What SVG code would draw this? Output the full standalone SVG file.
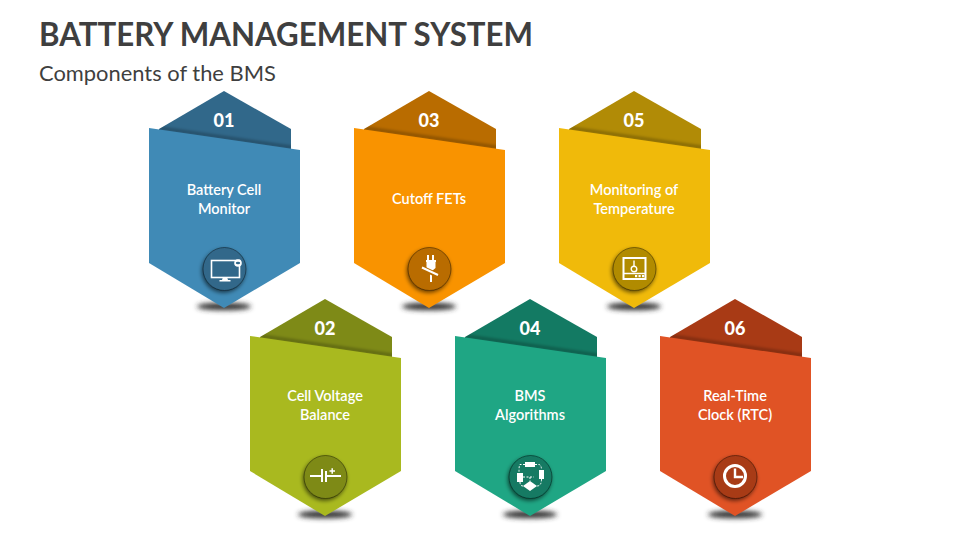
<svg xmlns="http://www.w3.org/2000/svg" width="960" height="540" viewBox="0 0 960 540">
<style>
text{font-family:Lato,"Liberation Sans",sans-serif;text-anchor:middle}
.title{font-size:32.500px;font-weight:700;fill:#3f3f3f;text-anchor:start}
.sub{font-size:21.900px;fill:#3f3f3f;text-anchor:start}
.num{font-size:18px;font-weight:900;fill:#fff}
.lbl{font-size:14.500px;font-weight:600;fill:#fff}
.ic{fill:none;stroke:#fff;stroke-width:2}
.icf{fill:#fff}
.ring{stroke:#000;stroke-opacity:.4;stroke-width:1}
.dash{fill:none;stroke:#fff;stroke-width:1;stroke-dasharray:2 1.500}
</style>
<defs>
<filter id="blur" x="-30%" y="-200%" width="160%" height="500%"><feGaussianBlur stdDeviation="2.700"/></filter>
<filter id="soft" x="-20%" y="-100%" width="140%" height="300%"><feGaussianBlur stdDeviation="1.800"/></filter>
<filter id="ds" x="-30%" y="-30%" width="160%" height="160%"><feGaussianBlur in="SourceAlpha" stdDeviation="2.200"/><feOffset dx="-1.500" dy="2"/><feComponentTransfer><feFuncA type="linear" slope=".6"/></feComponentTransfer><feMerge><feMergeNode/><feMergeNode in="SourceGraphic"/></feMerge></filter>
<clipPath id="backclip"><path d="M0 91L67 129V152H-65V129Z"/></clipPath>
<ellipse id="sh" cx="0" cy="306.500" rx="27" ry="3.800" fill="#333" filter="url(#blur)"/>
<path id="back" d="M0 91L67 129V152H-65V129Z"/>
<g id="crease" clip-path="url(#backclip)"><path d="M-75 126.500L76 148.500" fill="none" stroke="#000" stroke-opacity=".28" stroke-width="3" filter="url(#soft)"/></g>
<path id="front" d="M-75 128L76 150V263L0 308L-75 263Z"/>
<circle id="disc" cx="0.500" cy="269" r="21.500" class="ring" filter="url(#ds)"/>
</defs>
<text class="title" x="39" y="46" textLength="494" lengthAdjust="spacingAndGlyphs">BATTERY MANAGEMENT SYSTEM</text>
<text class="sub" x="39" y="81">Components of the BMS</text>

<g id="node-01" transform="translate(224 0)">
<use href="#sh"/><use href="#back" fill="#31688a"/><use href="#crease"/><use href="#front" fill="#408ab6"/><use href="#disc" fill="#31688a"/>
<text class="num" x="0" y="127">01</text><text class="lbl" x="0" y="195">Battery Cell</text><text class="lbl" x="0" y="214">Monitor</text>
<rect class="ic" x="-12.500" y="260.500" width="28" height="17" style="stroke-width:1.600"/>
<path class="icf" d="M-1 277H3L4 280H6.500V281.500H-4.500V280H-2Z"/>
<circle cx="14" cy="263" r="3.800" fill="#fff"/><ellipse cx="14" cy="263" rx="2.200" ry="1.300" fill="#31688a"/>
</g>

<g id="node-03" transform="translate(429 0)">
<use href="#sh"/><use href="#back" fill="#b96c00"/><use href="#crease"/><use href="#front" fill="#f99300"/><use href="#disc" fill="#b96c00"/>
<text class="num" x="0" y="127">03</text><text class="lbl" x="0" y="204">Cutoff FETs</text>
<path class="icf" d="M-2 255H0V260H3V255H5V260H7V262H6.500V268L3 271V282H1V271L-2.500 268V262H-3V260H-2Z"/>
<path d="M-7 268L9 275.500" stroke="#b96c00" stroke-width="5" fill="none"/><path d="M-7 267.500L9 275" stroke="#fff" stroke-width="2" fill="none"/>
</g>

<g id="node-05" transform="translate(634 0)">
<use href="#sh"/><use href="#back" fill="#b18b06"/><use href="#crease"/><use href="#front" fill="#f0ba0a"/><use href="#disc" fill="#b18b06"/>
<text class="num" x="0" y="127">05</text><text class="lbl" x="0" y="195">Monitoring of</text><text class="lbl" x="0" y="214">Temperature</text>
<rect class="ic" x="-10.500" y="258" width="22" height="21"/><path class="ic" d="M-10 273.500H11" style="stroke-width:1.500"/>
<circle class="ic" cx="0" cy="269" r="2.800" style="stroke-width:1.400"/><path class="ic" style="stroke-width:1.400" d="M0 266.200V260.500"/>
<rect class="icf" x="1" y="275" width="2.200" height="2.200"/><rect class="icf" x="4.500" y="275" width="2.200" height="2.200"/><rect class="icf" x="8" y="275" width="2.200" height="2.200"/>
</g>

<g id="node-02" transform="translate(325 208)">
<use href="#sh"/><use href="#back" fill="#7e8a17"/><use href="#crease"/><use href="#front" fill="#a9b91f"/><use href="#disc" fill="#7e8a17"/>
<text class="num" x="0" y="127">02</text><text class="lbl" x="0" y="193">Cell Voltage</text><text class="lbl" x="0" y="212">Balance</text>
<path class="ic" d="M-15 268H-4M-3 261V274M1 263V274M1 268H16"/>
<path class="ic" style="stroke-width:1.500" d="M4.500 263H10M7.200 260.200V265.800"/>
</g>

<g id="node-04" transform="translate(530 208)">
<use href="#sh"/><use href="#back" fill="#137a63"/><use href="#crease"/><use href="#front" fill="#1fa684"/><use href="#disc" fill="#137a63"/>
<text class="num" x="0" y="127">04</text><text class="lbl" x="0" y="193">BMS</text><text class="lbl" x="0" y="212">Algorithms</text>
<path class="dash" d="M-5 256.500H-10Q-11 256.500-11 265M5 256.500H9Q11.500 257 11.500 262M-10 274Q-10 278-7 278M11.500 271Q11.500 278 7 278M-7 269H4M0 269V273"/>
<rect class="icf" x="-5" y="254" width="10" height="5"/>
<rect class="icf" x="-13" y="265" width="6" height="9"/>
<rect class="icf" x="9" y="262" width="5" height="9"/>
<path class="icf" d="M0 273L7 278L0 283L-7 278Z"/>
</g>

<g id="node-06" transform="translate(735 208)">
<use href="#sh"/><use href="#back" fill="#a83a15"/><use href="#crease"/><use href="#front" fill="#e05325"/><use href="#disc" fill="#a83a15"/>
<text class="num" x="0" y="127">06</text><text class="lbl" x="0" y="193">Real-Time</text><text class="lbl" x="0" y="212">Clock (RTC)</text>
<circle class="ic" cx="0" cy="268" r="10.500" style="stroke-width:3"/>
<path class="ic" style="stroke-width:2.400" d="M0 260.500V269H8"/>
</g>
<g id="connectors"/>
</svg>
